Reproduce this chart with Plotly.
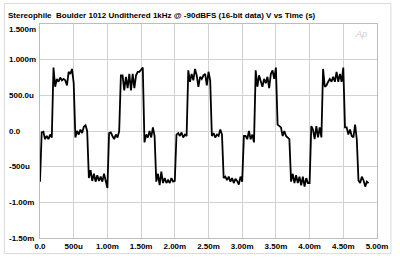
import plotly.graph_objects as go

# Sample spacing of the captured waveform (ms)
DT_MS = 0.025

# Voltage readings in mV, one list per 1 ms cycle
cycle1 = [-0.71, -0.02, -0.01, -0.115, -0.07, -0.115, -0.05, -0.09,
          0.89, 0.62, 0.73, 0.69, 0.75, 0.71, 0.73, 0.71, 0.64, 0.83, 0.80, 0.87, 0.67,
          -0.09, 0.0, -0.05, 0.02, -0.03, 0.06, 0.08, 0.0,
          -0.66, -0.55, -0.70, -0.60, -0.71, -0.62, -0.70, -0.64, -0.71, -0.60, -0.70]
cycle2 = [-0.80, -0.03, -0.02, -0.07, -0.115, -0.05, -0.09, 0.0,
          0.78, 0.78, 0.57, 0.76, 0.60, 0.80, 0.57, 0.80, 0.60, 0.78, 0.83, 0.83, 0.87, 0.89,
          -0.16, -0.05, -0.09, 0.0, -0.09, 0.05, -0.07,
          -0.71, -0.60, -0.76, -0.57, -0.73, -0.66, -0.73, -0.69, -0.73, -0.66, -0.71]
cycle3 = [-0.70, -0.05, -0.03, -0.07, -0.02, -0.09, -0.05, -0.07,
          0.85, 0.69, 0.80, 0.71, 0.87, 0.78, 0.62, 0.76, 0.73, 0.78, 0.80, 0.64, 0.83, 0.71,
          -0.07, -0.03, -0.09, -0.05, -0.07, 0.02, -0.05,
          -0.66, -0.64, -0.69, -0.64, -0.71, -0.66, -0.73, -0.67, -0.70, -0.75, -0.64]
cycle4 = [-0.71, -0.07, -0.07, -0.115, 0.0, -0.115, -0.05, -0.16,
          0.85, 0.62, 0.78, 0.71, 0.62, 0.73, 0.67, 0.76, 0.60, 0.80, 0.85, 0.73, 0.89,
          0.09, 0.07, 0.05, -0.07, 0.0, -0.07, -0.09, -0.115,
          -0.71, -0.60, -0.73, -0.62, -0.73, -0.64, -0.76, -0.64, -0.78, -0.66, -0.73]
cycle5 = [-0.73, 0.07, 0.02, -0.115, 0.07, -0.09, 0.05, -0.09,
          0.87, 0.62, 0.64, 0.69, 0.73, 0.69, 0.76, 0.69, 0.83, 0.69, 0.80, 0.69, 0.89,
          0.05, 0.05, -0.05, 0.02, -0.07, -0.09, 0.09, -0.115,
          -0.69, -0.73, -0.64, -0.69, -0.78, -0.71, -0.73]

x_tick_vals = [0.0, 0.5, 1.0, 1.5, 2.0, 2.5, 3.0, 3.5, 4.0, 4.5, 5.0]
x_tick_text = ["0.0", "500u", "1.00m", "1.50m", "2.00m", "2.50m", "3.00m",
               "3.50m", "4.00m", "4.50m", "5.00m"]
y_tick_vals = [1.5, 1.0, 0.5, 0.0, -0.5, -1.0, -1.5]
y_tick_text = ["1.500m", "1.000m", "500.0u", "0.0", "-500u", "-1.00m", "-1.50m"]

title_text = "Stereophile  Boulder 1012 Undithered 1kHz @ -90dBFS (16-bit data) V vs Time (s)"

values = cycle1 + cycle2 + cycle3 + cycle4 + cycle5
times = [i * DT_MS for i in range(len(values))]

W, H = 400, 263
ML, MR, MT, MB = 40, 20, 24, 20
PW, PH = W - ML - MR, H - MT - MB


def px_x(p):
    return (p - ML) / PW


def px_y(p):
    return (H - MB - p) / PH


FONT = "Liberation Sans, Arial, sans-serif"
GRID = "#d2d2d2"

fig = go.Figure()
fig.add_trace(go.Scatter(x=times, y=values, mode="lines",
                         line=dict(color="black", width=1.8), showlegend=False,
                         hoverinfo="skip"))

fig.update_layout(
    width=W, height=H,
    margin=dict(l=ML, r=MR, t=MT, b=MB),
    paper_bgcolor="white", plot_bgcolor="white",
    font=dict(family=FONT, size=8, color="black"),
)
fig.update_xaxes(range=[0, 5], tickvals=x_tick_vals, ticktext=x_tick_text,
                 showgrid=True, gridcolor=GRID, gridwidth=1.3,
                 showline=True, mirror=True, linecolor="#bdbdbd", linewidth=1,
                 zeroline=False, ticks="",
                 tickfont=dict(family=FONT, size=8, color="black", weight="bold"))
fig.update_yaxes(range=[-1.5, 1.5], tickvals=y_tick_vals, ticktext=[""] * len(y_tick_vals),
                 showgrid=True, gridcolor=GRID, gridwidth=1.3,
                 showline=True, mirror=True, linecolor="#bdbdbd", linewidth=1,
                 zeroline=False, ticks="")

# left-aligned y tick labels
for v, txt in zip(y_tick_vals, y_tick_text):
    fig.add_annotation(x=px_x(7), xref="paper", y=v, yref="y", text=txt,
                       xanchor="left", yanchor="middle", showarrow=False,
                       yshift=-5 if v == max(y_tick_vals) else 0,
                       font=dict(family=FONT, size=8, color="black", weight="bold"))

# title
fig.add_annotation(x=px_x(6), xref="paper", y=px_y(15), yref="paper", text=title_text,
                   xanchor="left", yanchor="middle", showarrow=False,
                   font=dict(family=FONT, size=8, color="black", weight="bold"))

# Ap logo
fig.add_annotation(x=px_x(372), xref="paper", y=px_y(34), yref="paper", text="<i>Ap</i>",
                   xanchor="right", yanchor="middle", showarrow=False,
                   font=dict(family=FONT, size=9, color="#cbcbcb"))

# outer frame
fig.add_shape(type="rect", xref="paper", yref="paper",
              x0=px_x(4), x1=px_x(394), y0=px_y(259), y1=px_y(3),
              line=dict(color="#dadada", width=1), fillcolor="rgba(0,0,0,0)", layer="below")

fig.write_html("out.html")
